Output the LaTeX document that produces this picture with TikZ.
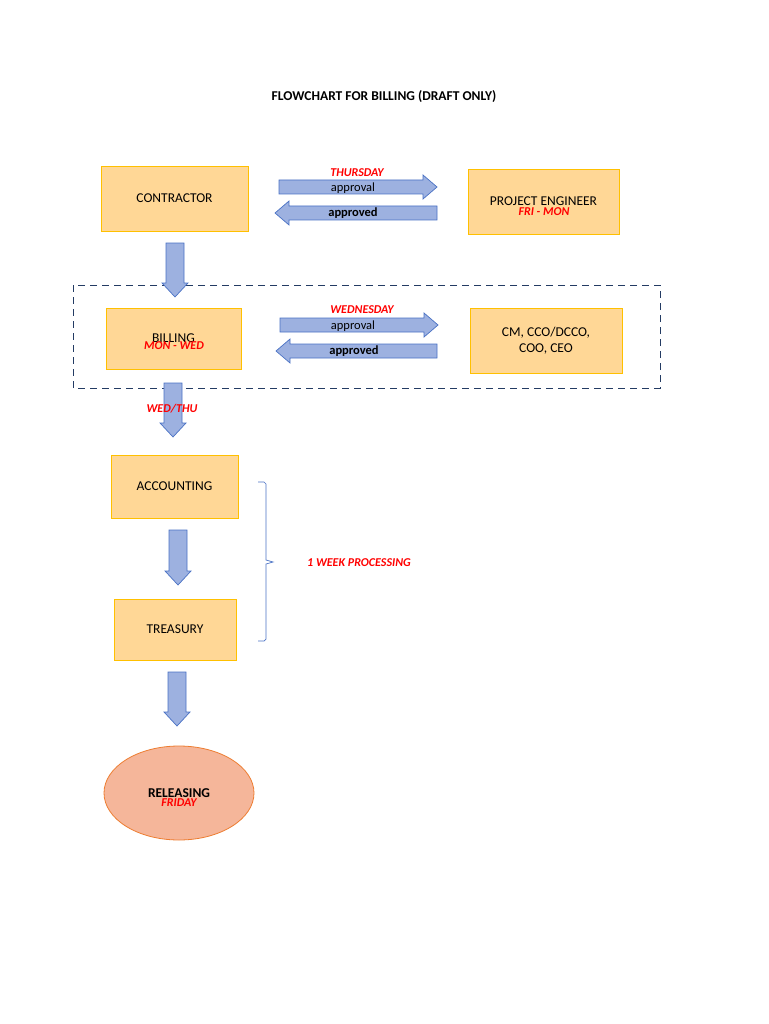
\documentclass[tikz,border=0pt]{standalone}
\usepackage{fontspec}
\setmainfont{Carlito}
\usetikzlibrary{shapes.geometric}
\definecolor{boxfill}{HTML}{FFD796}
\definecolor{boxline}{HTML}{FFC000}
\definecolor{arrfill}{HTML}{9DB1E0}
\definecolor{arrline}{HTML}{4A72C4}
\definecolor{elfill}{HTML}{F5B69A}
\definecolor{elline}{HTML}{ED7D31}
\definecolor{dashcol}{HTML}{233B63}
\newcommand{\rarrow}[3]{\draw[blk] (#1,#3-7) -- (#2-14,#3-7) -- (#2-14,#3-12) -- (#2,#3) -- (#2-14,#3+12) -- (#2-14,#3+7) -- (#1,#3+7) -- cycle;}
\newcommand{\larrow}[3]{\draw[blk] (#2,#3-7) -- (#1+14,#3-7) -- (#1+14,#3-12) -- (#1,#3) -- (#1+14,#3+12) -- (#1+14,#3+7) -- (#2,#3+7) -- cycle;}
\newcommand{\darrow}[3]{\draw[blk] (#1-9,#2) -- (#1-9,#3-14) -- (#1-13,#3-14) -- (#1,#3) -- (#1+13,#3-14) -- (#1+9,#3-14) -- (#1+9,#2) -- cycle;}
\begin{document}
\begin{tikzpicture}[x=1pt,y=-1pt,
  blk/.style={draw=arrline,fill=arrfill,line width=0.7pt},
  box/.style={draw=boxline,fill=boxfill,line width=0.8pt,align=center,font=\fontsize{13.5}{16}\selectfont,inner sep=0pt},
  red/.style={text=red,font=\fontsize{12}{14}\selectfont\bfseries\itshape},
  lab/.style={font=\fontsize{12.5}{14}\selectfont}]
\useasboundingbox (0,0) rectangle (768,1024);
\node[font=\fontsize{13.5}{16}\selectfont\bfseries] (title) at (384,97) {FLOWCHART FOR BILLING (DRAFT ONLY)};
\draw[dashcol,dash pattern=on 7pt off 5pt,line width=0.9pt] (73,285) rectangle (660,388);
\node[box,minimum width=147pt,minimum height=65pt] (con) at (174.5,198.5) {CONTRACTOR};
\node[box,minimum width=151pt,minimum height=65pt] (pe) at (543.5,201.5) {PROJECT ENGINEER};
\node[red] (pet) at (544,212) {FRI - MON};
\node[box,minimum width=135pt,minimum height=61pt] (bil) at (173.5,338.5) {BILLING};
\node[red] (bilt) at (174,346) {MON - WED};
\node[box,minimum width=152pt,minimum height=65pt] (cm) at (546,340.5) {CM, CCO/DCCO,\\COO, CEO};
\node[box,minimum width=127pt,minimum height=63pt] (acc) at (174.5,486.5) {ACCOUNTING};
\node[box,minimum width=122pt,minimum height=61pt] (tre) at (175,629.5) {TREASURY};
\node[ellipse,draw=elline,fill=elfill,line width=0.8pt,minimum width=150pt,minimum height=94pt,inner sep=0pt] (rel) at (179,793) {};
\node[font=\fontsize{13.5}{16}\selectfont\bfseries] (relt) at (179,793) {RELEASING};
\node[red] (relf) at (179,803) {FRIDAY};
% horizontal arrows
\rarrow{279}{437}{187}
\node[lab] at (353,188) {approval};
\node[red] at (357,173) {THURSDAY};
\larrow{275}{437}{213}
\node[lab,font=\fontsize{12.5}{14}\selectfont\bfseries] at (353,213) {approved};
\rarrow{280}{438}{325}
\node[lab] at (353,326) {approval};
\node[red] at (362,310) {WEDNESDAY};
\larrow{276}{437}{351}
\node[lab,font=\fontsize{12.5}{14}\selectfont\bfseries] at (354,351) {approved};
% vertical arrows
\darrow{175}{243}{297}
\darrow{173}{383}{437}
\node[red] at (172,409) {WED/THU};
\darrow{178}{530}{585}
\darrow{177}{672}{726}
% brace
\draw[arrline,line width=0.7pt] (258,482) -- (264,482) -- (266,484) -- (266,560) -- (273,562) -- (266,564) -- (266,639) -- (264,641) -- (258,641);
\node[red] (wk) at (359,563) {1 WEEK PROCESSING};
\end{tikzpicture}
\end{document}
